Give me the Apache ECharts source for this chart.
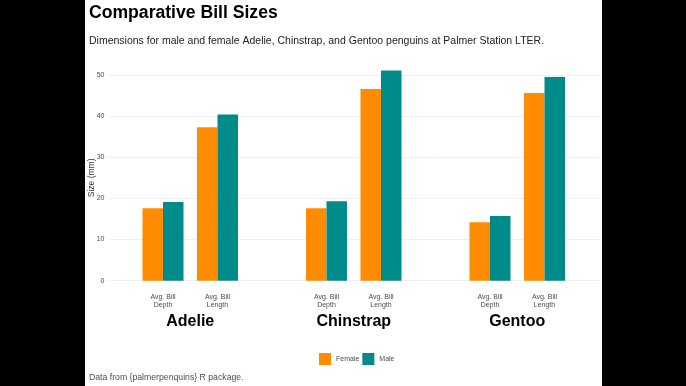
<!DOCTYPE html>
<html>
<head>
<meta charset="utf-8">
<script src="https://cdn.jsdelivr.net/npm/echarts@6/dist/echarts.min.js"></script>
<style>
  html, body { margin: 0; padding: 0; background: #000; }
  #chart { width: 686px; height: 386px; }
</style>
</head>
<body>
<div id="chart"></div>
<script>
// ---- data ----
const species = ['Adelie', 'Chinstrap', 'Gentoo'];
const measures = ['Avg. Bill\nDepth', 'Avg. Bill\nLength'];
const femaleDepth = [17.6, 17.6, 14.2];
const maleDepth = [19.1, 19.3, 15.7];
const femaleLength = [37.3, 46.6, 45.6];
const maleLength = [40.4, 51.1, 49.5];
const yTicks = [0, 10, 20, 30, 40, 50];
const sexes = ['Female', 'Male'];

// ---- layout ----
const FONT = 'Liberation Sans, Arial, Helvetica, sans-serif';
const panelLeft = 108.5, panelW = 163.5, panelTop = 75, panelH = 205.7;
const colors = { Female: '#FF8C00', Male: '#008B8B' };

const grids = [], xAxes = [], yAxes = [], series = [];
species.forEach((sp, i) => {
  grids.push({ left: panelLeft + i * panelW, top: panelTop, width: panelW, height: panelH, containLabel: false });
  xAxes.push({
    type: 'category', gridIndex: i, boundaryGap: false,
    data: ['', measures[0], measures[1], ''],
    axisLine: { show: false }, axisTick: { show: false },
    axisLabel: { interval: 0, fontSize: 7, lineHeight: 8, color: '#4d4d4d', margin: 12, fontFamily: FONT },
    splitLine: { show: false },
    name: sp, nameLocation: 'middle', nameGap: 33, nameMoveOverlap: false,
    nameTextStyle: { fontSize: 16, fontWeight: 'bold', color: '#000', fontFamily: FONT }
  });
  yAxes.push({
    type: 'value', gridIndex: i, min: yTicks[0], max: yTicks[yTicks.length - 1], interval: 10,
    axisLine: { show: false }, axisTick: { show: false },
    axisLabel: { show: i === 0, fontSize: 7, color: '#4d4d4d', margin: 4, fontFamily: FONT },
    splitLine: { show: true, lineStyle: { color: '#ebebeb', width: 0.8 } },
    name: i === 0 ? 'Size (mm)' : '', nameLocation: 'middle', nameGap: 12, nameRotate: 90, nameMoveOverlap: false,
    nameTextStyle: { fontSize: 8.5, color: '#333', fontFamily: FONT }
  });
  const fem = [null, femaleDepth[i], femaleLength[i], null];
  const mal = [null, maleDepth[i], maleLength[i], null];
  [[sexes[0], fem], [sexes[1], mal]].forEach(([name, d]) => {
    series.push({
      type: 'bar', name, xAxisIndex: i, yAxisIndex: i, data: d,
      barWidth: 20.5, barGap: '0%', clip: false,
      itemStyle: { color: colors[name] }
    });
  });
});

const chart = echarts.init(document.getElementById('chart'), null, { renderer: 'canvas' });
chart.setOption({
  backgroundColor: '#000',
  animation: false,
  graphic: [{ type: 'rect', z: -10, shape: { x: 85, y: 0, width: 517, height: 386 }, style: { fill: '#fff' }, silent: true }],
  title: [
    { text: 'Comparative Bill Sizes', left: 89, top: 4, padding: 0, textStyle: { fontSize: 17.6, fontWeight: 'bold', color: '#000', fontFamily: FONT } },
    { text: 'Dimensions for male and female Adelie, Chinstrap, and Gentoo penguins at Palmer Station LTER.', left: 89, top: 36, padding: 0, textStyle: { fontSize: 10.5, fontWeight: 'normal', color: '#222', fontFamily: FONT } },
    { text: 'Data from {palmerpenquins} R package.', left: 89, top: 373, padding: 0, textStyle: { fontSize: 8.7, fontWeight: 'normal', color: '#4d4d4d', fontFamily: FONT } }
  ],
  legend: {
    data: sexes, left: 319, top: 353, padding: 0, itemWidth: 12, itemHeight: 12, itemGap: 3, icon: 'rect',
    textStyle: { fontSize: 7, color: '#4d4d4d', fontFamily: FONT }
  },
  grid: grids, xAxis: xAxes, yAxis: yAxes, series
});
</script>
</body>
</html>
